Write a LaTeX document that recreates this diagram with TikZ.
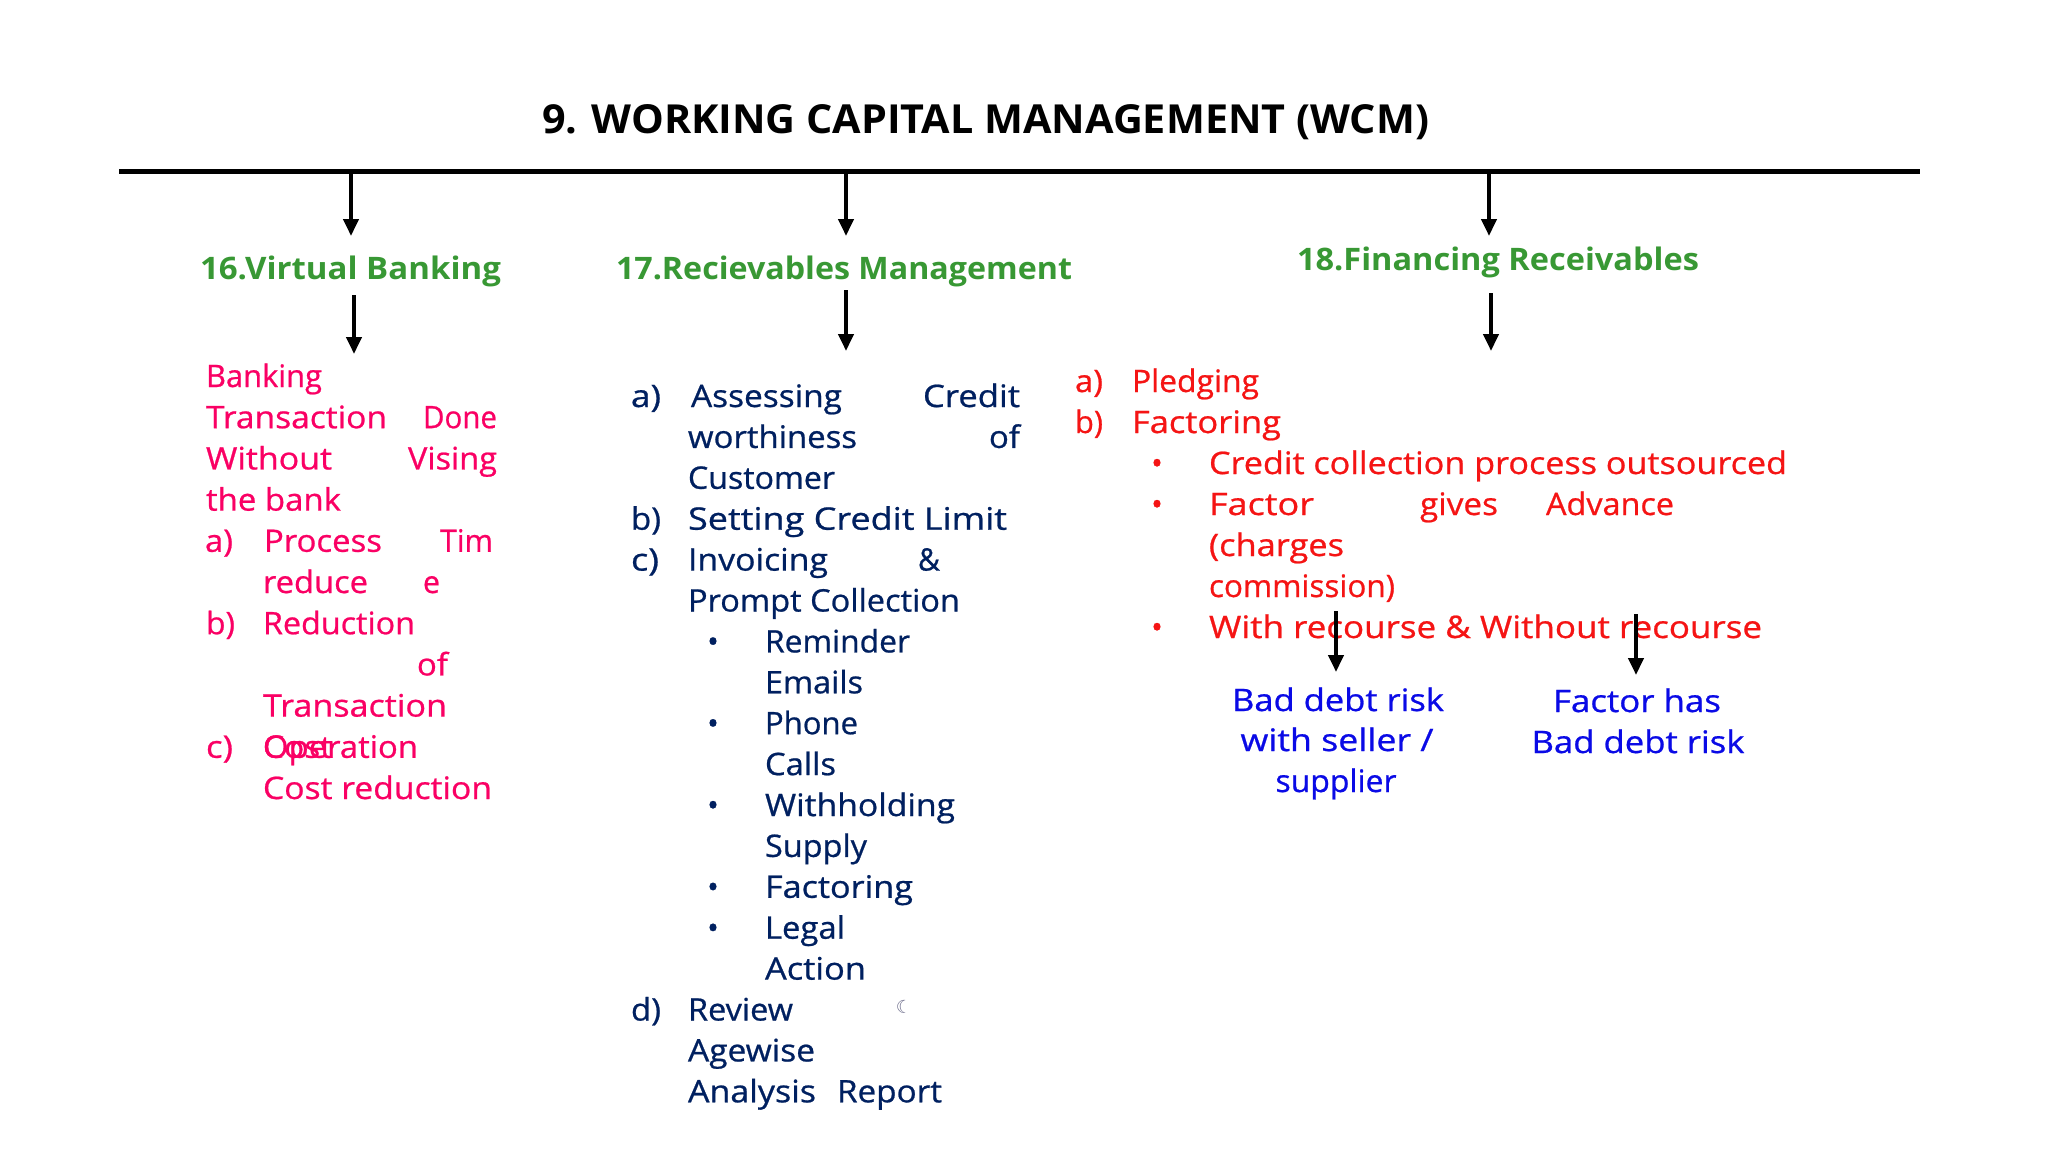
\documentclass[tikz,border=0pt]{standalone}
\usepackage{graphicx}
\usepackage{fontspec}
\setmainfont{Open Sans}[UprightFeatures={FakeBold=0.7}]
\newfontfamily\symfont{DejaVu Sans}
\usetikzlibrary{arrows.meta}
\definecolor{pinkc}{RGB}{250,0,100}
\definecolor{navyc}{RGB}{0,32,96}
\definecolor{redc}{RGB}{245,20,20}
\definecolor{bluec}{RGB}{10,10,230}
\definecolor{greenc}{RGB}{56,152,52}
\definecolor{moonc}{RGB}{110,110,140}
\newsavebox\ftbox
\newcommand\fitto[2]{\sbox\ftbox{#2}\pgfmathsetmacro\ftr{#1/\the\wd\ftbox}\scalebox{\ftr}[1]{\usebox\ftbox}}
\tikzset{
  txt/.style={anchor=base west, inner sep=0pt, outer sep=0pt, font=\fontsize{31}{41}\selectfont},
  ctxt/.style={txt, anchor=base},
  head/.style={txt, text=greenc, font=\fontsize{31}{41}\selectfont\bfseries},
  arr/.style={line width=4pt, -{Triangle[width=15pt,length=17pt]}},
}
\newcommand\tx[6][]{\node[txt,#1] (#2) at (#3,#4) {\fitto{#5}{#6}};}
\begin{document}
\begin{tikzpicture}[x=1pt,y=-1pt]
\useasboundingbox (0,0) rectangle (2048,1152);
\fill[white] (0,0) rectangle (2048,1152);

% title
\node[txt, font=\fontsize{40}{48}\selectfont\bfseries] (title) at (542,133) {\fitto{887}{9. WORKING CAPITAL MANAGEMENT (WCM)}};

% main line
\coordinate (lineL) at (119,171);
\coordinate (lineR) at (1920,171);
\draw[line width=5pt] (lineL) -- (lineR);

% headings
\tx[head]{h16}{200}{279}{301}{16.Virtual Banking}
\tx[head]{h17}{616}{279}{456}{17.Recievables Management}
\tx[head]{h18}{1297}{270}{402}{18.Financing Receivables}

% arrows from line to headings
\coordinate (a1s) at (351,171); \coordinate (a1e) at (351,236);
\coordinate (a2s) at (846,171); \coordinate (a2e) at (846,236);
\coordinate (a3s) at (1489,171); \coordinate (a3e) at (1489,236);
\draw[arr] (a1s) -- (a1e);
\draw[arr] (a2s) -- (a2e);
\draw[arr] (a3s) -- (a3e);

% arrows from headings to lists
\coordinate (b1s) at (354,295); \coordinate (b1e) at (354,354);
\coordinate (b2s) at (846,290); \coordinate (b2e) at (846,351);
\coordinate (b3s) at (1491,293); \coordinate (b3e) at (1491,351);
\draw[arr] (b1s) -- (b1e);
\draw[arr] (b2s) -- (b2e);
\draw[arr] (b3s) -- (b3e);

% left column (pink)
\begin{scope}[every node/.append style={text=pinkc}]
\tx{p0}{206}{387}{116}{Banking}
\tx{p1a}{206}{428.2}{181}{Transaction}
\tx{p1b}{423}{428.2}{74}{Done}
\tx{p2a}{206}{469.4}{126}{Without}
\tx{p2b}{408}{469.4}{89}{Vising}
\tx{p3}{206}{510.6}{135}{the bank}
\tx{p4a}{205}{551.8}{28}{a)}
\tx{p4b}{264}{551.8}{118}{Process}
\tx{p4c}{440}{551.8}{53}{Tim}
\tx{p5a}{263}{593}{105}{reduce}
\tx{p5b}{423}{593}{17}{e}
\tx{p6a}{206}{634.2}{29}{b)}
\tx{p6b}{263}{634.2}{152}{Reduction}
\tx{p7}{417}{675.4}{31}{of}
\tx{p8}{263}{716.6}{184}{Transaction}
\tx{p9a}{206}{757.8}{27}{c)}
\tx{p9b}{263}{757.8}{155}{Operation}
\tx{p9c}{263}{757.8}{69}{Cost}
\tx{p10}{263}{799}{229}{Cost reduction}
\end{scope}

% middle column (navy)
\begin{scope}[every node/.append style={text=navyc}]
\tx{m0a}{631}{407}{30}{a)}
\tx{m0b}{691}{407}{151}{Assessing}
\tx{m0c}{923}{407}{97}{Credit}
\tx{m1a}{688}{447.9}{169}{worthiness}
\tx{m1b}{989}{447.9}{31}{of}
\tx{m2}{688}{488.8}{147}{Customer}
\tx{m3a}{631}{529.7}{30}{b)}
\tx{m3b}{688}{529.7}{319}{Setting Credit Limit}
\tx{m4a}{631}{570.6}{28}{c)}
\tx{m4b}{688}{570.6}{140}{Invoicing}
\tx{m4c}{918}{570.6}{22}{\&}
\tx{m5}{688}{611.5}{272}{Prompt Collection}
\node[ctxt] (mb1) at (713,652.4) {•};
\tx{m6}{765}{652.4}{145}{Reminder}
\tx{m7}{765}{693.3}{98}{Emails}
\node[ctxt] (mb2) at (713,734.2) {•};
\tx{m8}{765}{734.2}{93}{Phone}
\tx{m9}{765}{775.1}{71}{Calls}
\node[ctxt] (mb3) at (713,816) {•};
\tx{m10}{765}{816}{190}{Withholding}
\tx{m11}{765}{856.9}{102}{Supply}
\node[ctxt] (mb4) at (713,897.8) {•};
\tx{m12}{765}{897.8}{148}{Factoring}
\node[ctxt] (mb5) at (713,938.7) {•};
\tx{m13}{765}{938.7}{80}{Legal}
\tx{m14}{765}{979.6}{101}{Action}
\tx{m15a}{631}{1020.5}{30}{d)}
\tx{m15b}{688}{1020.5}{105}{Review}
\tx{m16}{688}{1061.4}{127}{Agewise}
\tx{m17a}{688}{1102.3}{128}{Analysis}
\tx{m17b}{837}{1102.3}{105}{Report}
\end{scope}
\node[text=moonc, inner sep=0pt, font=\symfont\fontsize{18}{18}\selectfont] (moon) at (904,1007) {☾};

% right column (red)
\begin{scope}[every node/.append style={text=redc}]
\tx{r0a}{1075}{392}{28}{a)}
\tx{r0b}{1132}{392}{127}{Pledging}
\tx{r1a}{1075}{433}{28}{b)}
\tx{r1b}{1132}{433}{149}{Factoring}
\node[ctxt] (rb1) at (1157,474) {•};
\tx{r2}{1209}{474}{578}{Credit collection process outsourced}
\node[ctxt] (rb2) at (1157,515) {•};
\tx{r3a}{1209}{515}{105}{Factor}
\tx{r3b}{1420}{515}{78}{gives}
\tx{r3c}{1546}{515}{128}{Advance}
\tx{r4}{1209}{556}{135}{(charges}
\tx{r5}{1209}{597}{186}{commission)}
\node[ctxt] (rb3) at (1157,638) {•};
\tx{r6}{1209}{638}{553}{With recourse \& Without recourse}
\end{scope}

% bottom arrows
\coordinate (c1s) at (1336,611); \coordinate (c1e) at (1336,672);
\coordinate (c2s) at (1636,614); \coordinate (c2e) at (1636,675);
\draw[arr] (c1s) -- (c1e);
\draw[arr] (c2s) -- (c2e);

% blue outcomes
\begin{scope}[every node/.append style={text=bluec}]
\node[ctxt] (o1a) at (1338,711) {\fitto{212}{Bad debt risk}};
\node[ctxt] (o1b) at (1337,751) {\fitto{193}{with seller /}};
\node[ctxt] (o1c) at (1336,792) {\fitto{121}{supplier}};
\node[ctxt] (o2a) at (1637,712) {\fitto{168}{Factor has}};
\node[ctxt] (o2b) at (1638,753) {\fitto{213}{Bad debt risk}};
\end{scope}
\end{tikzpicture}
\end{document}
